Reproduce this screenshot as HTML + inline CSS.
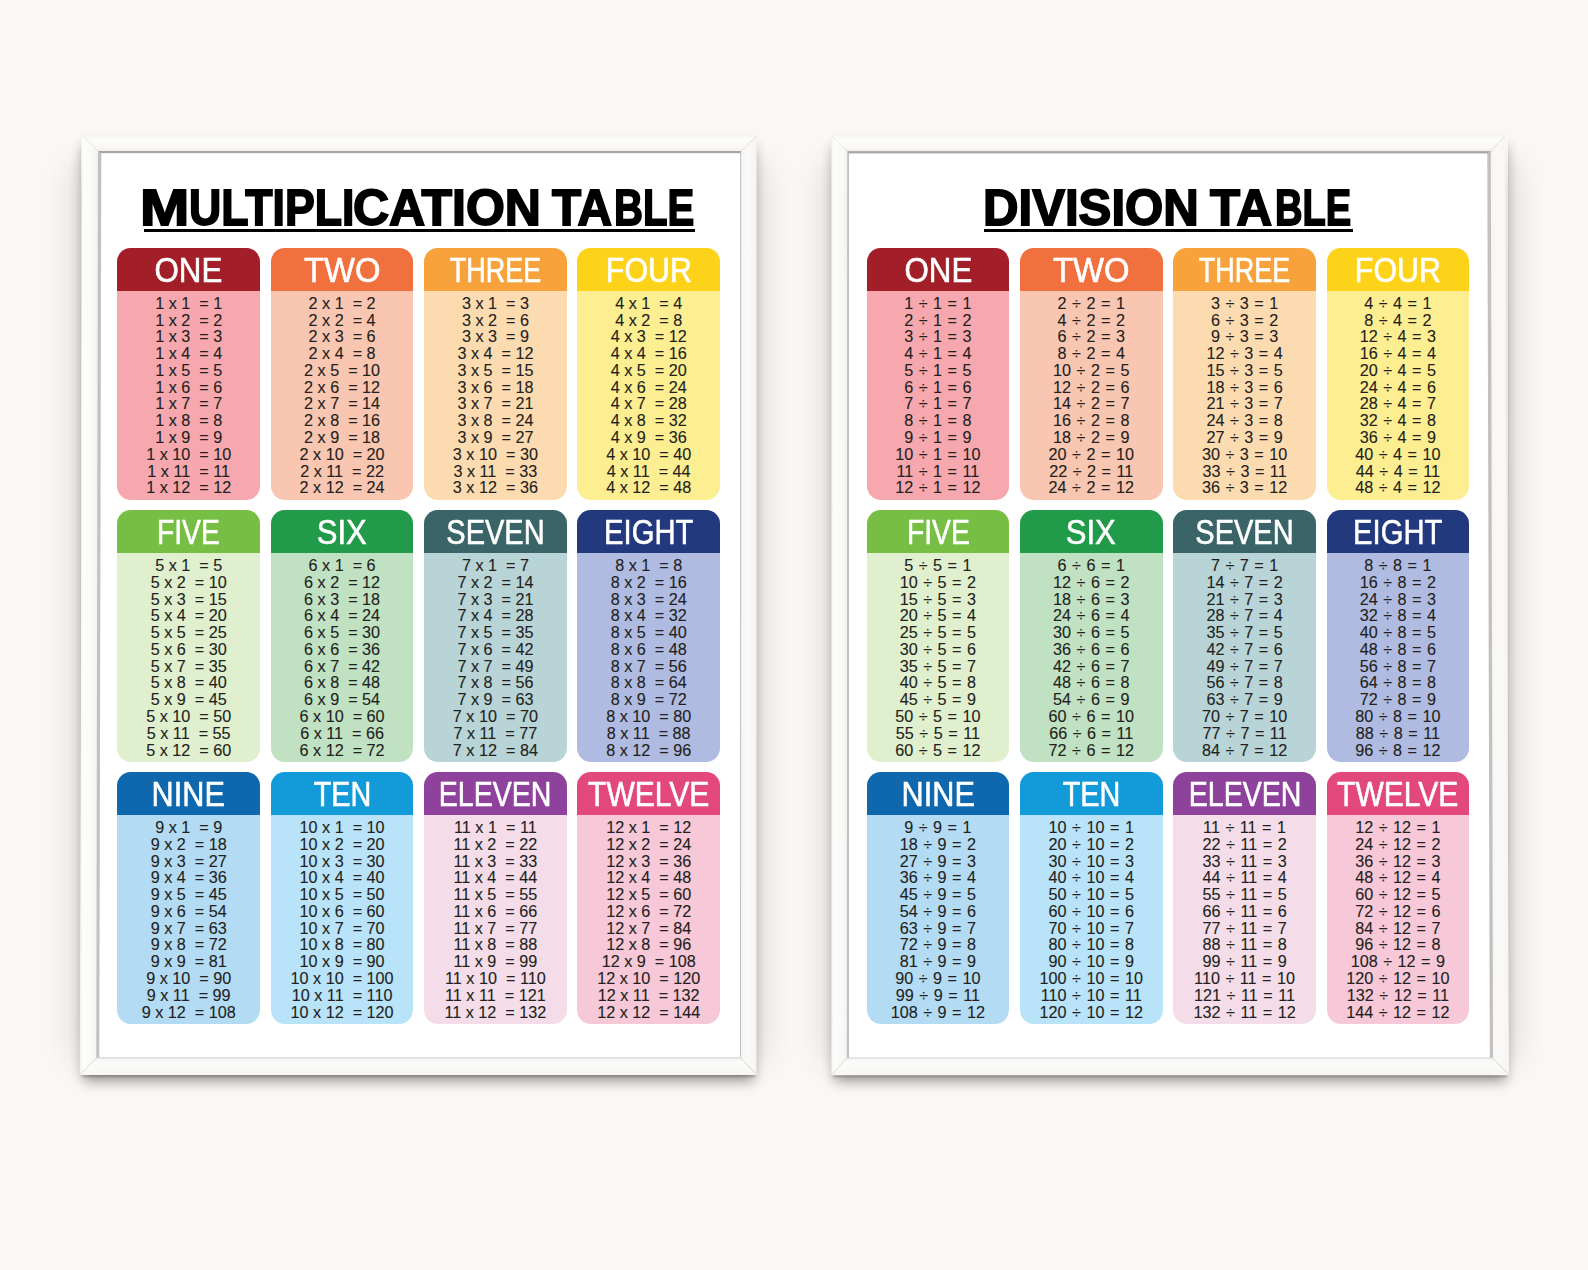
<!DOCTYPE html>
<html><head><meta charset="utf-8"><style>
*{margin:0;padding:0;box-sizing:border-box}
html,body{width:1588px;height:1270px;overflow:hidden}
body{position:relative;background:#f9f8f7;font-family:"Liberation Sans",sans-serif}
svg.fr{position:absolute;left:0;top:0}
.fsh{position:absolute;box-shadow:0 3px 2px -1px rgba(70,62,55,.30),0 9px 12px -3px rgba(70,62,55,.45),0 6px 12px -2px rgba(40,40,40,.14)}
.sd{position:absolute;top:165px;width:14px;height:895px;background:rgba(30,30,30,.19);filter:blur(14px)}
.uline{position:absolute;top:229.4px;height:2.2px;background:#000}
.tw{position:absolute;top:173px;height:70px;white-space:nowrap;font-weight:bold;font-size:50.7px;line-height:70px;color:#000;-webkit-text-stroke:1.8px #000;transform-origin:0 0}
.card{position:absolute;width:142.8px;height:252px;border-radius:14px;overflow:hidden}
.hd{height:43px;color:#fff;font-size:34.5px;line-height:44.4px;-webkit-text-stroke:0.6px #fff;text-align:center;white-space:nowrap}
.hd span{display:inline-block}
.bd{color:#231f20;font-size:16.2px;line-height:16.76px;text-align:center;padding-top:4.3px;-webkit-text-stroke:0.12px #231f20;white-space:nowrap}
</style></head><body>
<div class="fsh" style="left:80.8px;top:135.5px;width:674.8px;height:939.2px"></div>
<div class="sd" style="left:73.8px"></div><div class="sd" style="left:748.5px"></div>
<div class="fsh" style="left:832.3px;top:135.7px;width:675.7px;height:939.5px"></div>
<div class="sd" style="left:825.3px"></div><div class="sd" style="left:1501.0px"></div>
<svg class="fr" width="1588" height="1270" viewBox="0 0 1588 1270">
<defs>
<linearGradient id="gTop" x1="0" y1="0" x2="0" y2="1"><stop offset="0" stop-color="#f7f6f5"/><stop offset="0.25" stop-color="#fcfcfb"/><stop offset="0.8" stop-color="#f9f8f7"/><stop offset="1" stop-color="#efeeed"/></linearGradient>
<linearGradient id="gLeft" x1="0" y1="0" x2="1" y2="0"><stop offset="0" stop-color="#f4f3f2"/><stop offset="0.2" stop-color="#fdfdfc"/><stop offset="0.75" stop-color="#f9f8f7"/><stop offset="1" stop-color="#f1f0ef"/></linearGradient>
<linearGradient id="gRight" x1="0" y1="0" x2="1" y2="0"><stop offset="0" stop-color="#f6f5f4"/><stop offset="0.4" stop-color="#faf9f8"/><stop offset="1" stop-color="#f6f5f4"/></linearGradient>
<linearGradient id="gBot" x1="0" y1="0" x2="0" y2="1"><stop offset="0" stop-color="#f6f5f4"/><stop offset="0.3" stop-color="#fbfbfa"/><stop offset="1" stop-color="#f8f7f6"/></linearGradient>
</defs>
<polygon points="82.50,135.50 756.60,135.50 741.20,151.00 98.00,151.00" fill="url(#gTop)"/>
<polygon points="756.60,135.50 756.50,1074.70 741.00,1058.20 741.20,151.00" fill="url(#gRight)"/>
<polygon points="79.80,1074.70 756.50,1074.70 741.00,1058.20 96.30,1058.20" fill="url(#gBot)"/>
<polygon points="82.50,135.50 79.80,1074.70 96.30,1058.20 98.00,151.00" fill="url(#gLeft)"/>
<line x1="82.50" y1="135.50" x2="98.00" y2="151.00" stroke="#e6e4e2" stroke-width="0.8"/>
<line x1="756.60" y1="135.50" x2="741.20" y2="151.00" stroke="#dcdad8" stroke-width="0.8"/>
<line x1="756.50" y1="1074.70" x2="741.00" y2="1058.20" stroke="#cfcdcb" stroke-width="0.8"/>
<line x1="79.80" y1="1074.70" x2="96.30" y2="1058.20" stroke="#d6d4d2" stroke-width="0.8"/>
<polygon points="98.00,151.00 741.20,151.00 741.00,1058.20 96.30,1058.20" fill="#c3c1bf"/>
<polygon points="98.00,151.00 741.20,151.00 740.10,153.20 101.30,153.20" fill="#a9a5a3"/>
<polygon points="96.30,1057.30 741.00,1057.30 741.00,1058.20 96.30,1058.20" fill="#dddbd9"/>
<polygon points="101.30,153.20 740.10,153.20 740.00,1057.30 99.30,1057.30" fill="#ffffff"/>
<polygon points="831.30,135.70 1505.00,135.70 1490.80,151.20 847.20,151.20" fill="url(#gTop)"/>
<polygon points="1505.00,135.70 1509.00,1075.20 1493.00,1058.20 1490.80,151.20" fill="url(#gRight)"/>
<polygon points="831.30,1075.20 1509.00,1075.20 1493.00,1058.20 846.90,1058.20" fill="url(#gBot)"/>
<polygon points="831.30,135.70 831.30,1075.20 846.90,1058.20 847.20,151.20" fill="url(#gLeft)"/>
<line x1="831.30" y1="135.70" x2="847.20" y2="151.20" stroke="#e6e4e2" stroke-width="0.8"/>
<line x1="1505.00" y1="135.70" x2="1490.80" y2="151.20" stroke="#dcdad8" stroke-width="0.8"/>
<line x1="1509.00" y1="1075.20" x2="1493.00" y2="1058.20" stroke="#cfcdcb" stroke-width="0.8"/>
<line x1="831.30" y1="1075.20" x2="846.90" y2="1058.20" stroke="#d6d4d2" stroke-width="0.8"/>
<polygon points="847.20,151.20 1490.80,151.20 1493.00,1058.20 846.90,1058.20" fill="#c3c1bf"/>
<polygon points="847.20,151.20 1490.80,151.20 1487.30,153.40 849.00,153.40" fill="#a9a5a3"/>
<polygon points="846.90,1057.40 1493.00,1057.40 1493.00,1058.20 846.90,1058.20" fill="#dddbd9"/>
<polygon points="849.00,153.40 1487.30,153.40 1489.80,1057.40 849.00,1057.40" fill="#ffffff"/>
</svg>
<div class="tw" style="left:140.0px;transform:scaleX(1.1680)">M</div>
<div class="tw" style="left:188.5px;transform:scaleX(0.8810)">ULTIPLI</div>
<div class="tw" style="left:353.3px;transform:scaleX(0.9860)">CATION</div>
<div class="tw" style="left:552.4px;transform:scaleX(0.9420)">TA</div>
<div class="tw" style="left:613.9px;transform:scaleX(0.7910)">BLE</div>
<div class="uline" style="left:143.7px;width:551.2px"></div>
<div class="card" style="left:117.3px;top:247.6px;background:#f6a8ae"><div class="hd" style="background:#a21e28"><span style="transform:scaleX(0.906)">ONE</span></div><div class="bd"><div>1 x 1&nbsp; = 1</div><div>1 x 2&nbsp; = 2</div><div>1 x 3&nbsp; = 3</div><div>1 x 4&nbsp; = 4</div><div>1 x 5&nbsp; = 5</div><div>1 x 6&nbsp; = 6</div><div>1 x 7&nbsp; = 7</div><div>1 x 8&nbsp; = 8</div><div>1 x 9&nbsp; = 9</div><div>1 x 10&nbsp; = 10</div><div>1 x 11&nbsp; = 11</div><div>1 x 12&nbsp; = 12</div></div></div>
<div class="card" style="left:270.7px;top:247.6px;background:#f9c6b1"><div class="hd" style="background:#f0703e"><span style="transform:scaleX(0.951)">TWO</span></div><div class="bd"><div>2 x 1&nbsp; = 2</div><div>2 x 2&nbsp; = 4</div><div>2 x 3&nbsp; = 6</div><div>2 x 4&nbsp; = 8</div><div>2 x 5&nbsp; = 10</div><div>2 x 6&nbsp; = 12</div><div>2 x 7&nbsp; = 14</div><div>2 x 8&nbsp; = 16</div><div>2 x 9&nbsp; = 18</div><div>2 x 10&nbsp; = 20</div><div>2 x 11&nbsp; = 22</div><div>2 x 12&nbsp; = 24</div></div></div>
<div class="card" style="left:424.0px;top:247.6px;background:#fddbb1"><div class="hd" style="background:#f7a23a"><span style="transform:scaleX(0.782)">THREE</span></div><div class="bd"><div>3 x 1&nbsp; = 3</div><div>3 x 2&nbsp; = 6</div><div>3 x 3&nbsp; = 9</div><div>3 x 4&nbsp; = 12</div><div>3 x 5&nbsp; = 15</div><div>3 x 6&nbsp; = 18</div><div>3 x 7&nbsp; = 21</div><div>3 x 8&nbsp; = 24</div><div>3 x 9&nbsp; = 27</div><div>3 x 10&nbsp; = 30</div><div>3 x 11&nbsp; = 33</div><div>3 x 12&nbsp; = 36</div></div></div>
<div class="card" style="left:577.3px;top:247.6px;background:#fdee91"><div class="hd" style="background:#fdd31a"><span style="transform:scaleX(0.88)">FOUR</span></div><div class="bd"><div>4 x 1&nbsp; = 4</div><div>4 x 2&nbsp; = 8</div><div>4 x 3&nbsp; = 12</div><div>4 x 4&nbsp; = 16</div><div>4 x 5&nbsp; = 20</div><div>4 x 6&nbsp; = 24</div><div>4 x 7&nbsp; = 28</div><div>4 x 8&nbsp; = 32</div><div>4 x 9&nbsp; = 36</div><div>4 x 10&nbsp; = 40</div><div>4 x 11&nbsp; = 44</div><div>4 x 12&nbsp; = 48</div></div></div>
<div class="card" style="left:117.3px;top:509.8px;background:#e0efcd"><div class="hd" style="background:#77be44"><span style="transform:scaleX(0.82)">FIVE</span></div><div class="bd"><div>5 x 1&nbsp; = 5</div><div>5 x 2&nbsp; = 10</div><div>5 x 3&nbsp; = 15</div><div>5 x 4&nbsp; = 20</div><div>5 x 5&nbsp; = 25</div><div>5 x 6&nbsp; = 30</div><div>5 x 7&nbsp; = 35</div><div>5 x 8&nbsp; = 40</div><div>5 x 9&nbsp; = 45</div><div>5 x 10&nbsp; = 50</div><div>5 x 11&nbsp; = 55</div><div>5 x 12&nbsp; = 60</div></div></div>
<div class="card" style="left:270.7px;top:509.8px;background:#c0e1c2"><div class="hd" style="background:#219a49"><span style="transform:scaleX(0.898)">SIX</span></div><div class="bd"><div>6 x 1&nbsp; = 6</div><div>6 x 2&nbsp; = 12</div><div>6 x 3&nbsp; = 18</div><div>6 x 4&nbsp; = 24</div><div>6 x 5&nbsp; = 30</div><div>6 x 6&nbsp; = 36</div><div>6 x 7&nbsp; = 42</div><div>6 x 8&nbsp; = 48</div><div>6 x 9&nbsp; = 54</div><div>6 x 10&nbsp; = 60</div><div>6 x 11&nbsp; = 66</div><div>6 x 12&nbsp; = 72</div></div></div>
<div class="card" style="left:424.0px;top:509.8px;background:#b8d4d6"><div class="hd" style="background:#3a6467"><span style="transform:scaleX(0.84)">SEVEN</span></div><div class="bd"><div>7 x 1&nbsp; = 7</div><div>7 x 2&nbsp; = 14</div><div>7 x 3&nbsp; = 21</div><div>7 x 4&nbsp; = 28</div><div>7 x 5&nbsp; = 35</div><div>7 x 6&nbsp; = 42</div><div>7 x 7&nbsp; = 49</div><div>7 x 8&nbsp; = 56</div><div>7 x 9&nbsp; = 63</div><div>7 x 10&nbsp; = 70</div><div>7 x 11&nbsp; = 77</div><div>7 x 12&nbsp; = 84</div></div></div>
<div class="card" style="left:577.3px;top:509.8px;background:#b0bbe1"><div class="hd" style="background:#23397e"><span style="transform:scaleX(0.846)">EIGHT</span></div><div class="bd"><div>8 x 1&nbsp; = 8</div><div>8 x 2&nbsp; = 16</div><div>8 x 3&nbsp; = 24</div><div>8 x 4&nbsp; = 32</div><div>8 x 5&nbsp; = 40</div><div>8 x 6&nbsp; = 48</div><div>8 x 7&nbsp; = 56</div><div>8 x 8&nbsp; = 64</div><div>8 x 9&nbsp; = 72</div><div>8 x 10&nbsp; = 80</div><div>8 x 11&nbsp; = 88</div><div>8 x 12&nbsp; = 96</div></div></div>
<div class="card" style="left:117.3px;top:771.8px;background:#b4dbf4"><div class="hd" style="background:#0f67ad"><span style="transform:scaleX(0.888)">NINE</span></div><div class="bd"><div>9 x 1&nbsp; = 9</div><div>9 x 2&nbsp; = 18</div><div>9 x 3&nbsp; = 27</div><div>9 x 4&nbsp; = 36</div><div>9 x 5&nbsp; = 45</div><div>9 x 6&nbsp; = 54</div><div>9 x 7&nbsp; = 63</div><div>9 x 8&nbsp; = 72</div><div>9 x 9&nbsp; = 81</div><div>9 x 10&nbsp; = 90</div><div>9 x 11&nbsp; = 99</div><div>9 x 12&nbsp; = 108</div></div></div>
<div class="card" style="left:270.7px;top:771.8px;background:#b9e3f9"><div class="hd" style="background:#139bd9"><span style="transform:scaleX(0.834)">TEN</span></div><div class="bd"><div>10 x 1&nbsp; = 10</div><div>10 x 2&nbsp; = 20</div><div>10 x 3&nbsp; = 30</div><div>10 x 4&nbsp; = 40</div><div>10 x 5&nbsp; = 50</div><div>10 x 6&nbsp; = 60</div><div>10 x 7&nbsp; = 70</div><div>10 x 8&nbsp; = 80</div><div>10 x 9&nbsp; = 90</div><div>10 x 10&nbsp; = 100</div><div>10 x 11&nbsp; = 110</div><div>10 x 12&nbsp; = 120</div></div></div>
<div class="card" style="left:424.0px;top:771.8px;background:#f4dde9"><div class="hd" style="background:#8e429c"><span style="transform:scaleX(0.827)">ELEVEN</span></div><div class="bd"><div>11 x 1&nbsp; = 11</div><div>11 x 2&nbsp; = 22</div><div>11 x 3&nbsp; = 33</div><div>11 x 4&nbsp; = 44</div><div>11 x 5&nbsp; = 55</div><div>11 x 6&nbsp; = 66</div><div>11 x 7&nbsp; = 77</div><div>11 x 8&nbsp; = 88</div><div>11 x 9&nbsp; = 99</div><div>11 x 10&nbsp; = 110</div><div>11 x 11&nbsp; = 121</div><div>11 x 12&nbsp; = 132</div></div></div>
<div class="card" style="left:577.3px;top:771.8px;background:#f7c8d7"><div class="hd" style="background:#e2487c"><span style="transform:scaleX(0.87)">TWELVE</span></div><div class="bd"><div>12 x 1&nbsp; = 12</div><div>12 x 2&nbsp; = 24</div><div>12 x 3&nbsp; = 36</div><div>12 x 4&nbsp; = 48</div><div>12 x 5&nbsp; = 60</div><div>12 x 6&nbsp; = 72</div><div>12 x 7&nbsp; = 84</div><div>12 x 8&nbsp; = 96</div><div>12 x 9&nbsp; = 108</div><div>12 x 10&nbsp; = 120</div><div>12 x 11&nbsp; = 132</div><div>12 x 12&nbsp; = 144</div></div></div>
<div class="tw" style="left:983.3px;transform:scaleX(0.9700)">DIVISION</div>
<div class="tw" style="left:1209.7px;transform:scaleX(0.9720)">TA</div>
<div class="tw" style="left:1275.3px;transform:scaleX(0.7520)">BLE</div>
<div class="uline" style="left:984.0px;width:368.9px"></div>
<div class="card" style="left:866.5px;top:247.6px;background:#f6a8ae"><div class="hd" style="background:#a21e28"><span style="transform:scaleX(0.906)">ONE</span></div><div class="bd" style="word-spacing:1.0px"><div>1 ÷ 1 = 1</div><div>2 ÷ 1 = 2</div><div>3 ÷ 1 = 3</div><div>4 ÷ 1 = 4</div><div>5 ÷ 1 = 5</div><div>6 ÷ 1 = 6</div><div>7 ÷ 1 = 7</div><div>8 ÷ 1 = 8</div><div>9 ÷ 1 = 9</div><div>10 ÷ 1 = 10</div><div>11 ÷ 1 = 11</div><div>12 ÷ 1 = 12</div></div></div>
<div class="card" style="left:1019.9px;top:247.6px;background:#f9c6b1"><div class="hd" style="background:#f0703e"><span style="transform:scaleX(0.951)">TWO</span></div><div class="bd" style="word-spacing:1.0px"><div>2 ÷ 2 = 1</div><div>4 ÷ 2 = 2</div><div>6 ÷ 2 = 3</div><div>8 ÷ 2 = 4</div><div>10 ÷ 2 = 5</div><div>12 ÷ 2 = 6</div><div>14 ÷ 2 = 7</div><div>16 ÷ 2 = 8</div><div>18 ÷ 2 = 9</div><div>20 ÷ 2 = 10</div><div>22 ÷ 2 = 11</div><div>24 ÷ 2 = 12</div></div></div>
<div class="card" style="left:1173.2px;top:247.6px;background:#fddbb1"><div class="hd" style="background:#f7a23a"><span style="transform:scaleX(0.782)">THREE</span></div><div class="bd" style="word-spacing:1.0px"><div>3 ÷ 3 = 1</div><div>6 ÷ 3 = 2</div><div>9 ÷ 3 = 3</div><div>12 ÷ 3 = 4</div><div>15 ÷ 3 = 5</div><div>18 ÷ 3 = 6</div><div>21 ÷ 3 = 7</div><div>24 ÷ 3 = 8</div><div>27 ÷ 3 = 9</div><div>30 ÷ 3 = 10</div><div>33 ÷ 3 = 11</div><div>36 ÷ 3 = 12</div></div></div>
<div class="card" style="left:1326.5px;top:247.6px;background:#fdee91"><div class="hd" style="background:#fdd31a"><span style="transform:scaleX(0.88)">FOUR</span></div><div class="bd" style="word-spacing:1.0px"><div>4 ÷ 4 = 1</div><div>8 ÷ 4 = 2</div><div>12 ÷ 4 = 3</div><div>16 ÷ 4 = 4</div><div>20 ÷ 4 = 5</div><div>24 ÷ 4 = 6</div><div>28 ÷ 4 = 7</div><div>32 ÷ 4 = 8</div><div>36 ÷ 4 = 9</div><div>40 ÷ 4 = 10</div><div>44 ÷ 4 = 11</div><div>48 ÷ 4 = 12</div></div></div>
<div class="card" style="left:866.5px;top:509.8px;background:#e0efcd"><div class="hd" style="background:#77be44"><span style="transform:scaleX(0.82)">FIVE</span></div><div class="bd" style="word-spacing:1.0px"><div>5 ÷ 5 = 1</div><div>10 ÷ 5 = 2</div><div>15 ÷ 5 = 3</div><div>20 ÷ 5 = 4</div><div>25 ÷ 5 = 5</div><div>30 ÷ 5 = 6</div><div>35 ÷ 5 = 7</div><div>40 ÷ 5 = 8</div><div>45 ÷ 5 = 9</div><div>50 ÷ 5 = 10</div><div>55 ÷ 5 = 11</div><div>60 ÷ 5 = 12</div></div></div>
<div class="card" style="left:1019.9px;top:509.8px;background:#c0e1c2"><div class="hd" style="background:#219a49"><span style="transform:scaleX(0.898)">SIX</span></div><div class="bd" style="word-spacing:1.0px"><div>6 ÷ 6 = 1</div><div>12 ÷ 6 = 2</div><div>18 ÷ 6 = 3</div><div>24 ÷ 6 = 4</div><div>30 ÷ 6 = 5</div><div>36 ÷ 6 = 6</div><div>42 ÷ 6 = 7</div><div>48 ÷ 6 = 8</div><div>54 ÷ 6 = 9</div><div>60 ÷ 6 = 10</div><div>66 ÷ 6 = 11</div><div>72 ÷ 6 = 12</div></div></div>
<div class="card" style="left:1173.2px;top:509.8px;background:#b8d4d6"><div class="hd" style="background:#3a6467"><span style="transform:scaleX(0.84)">SEVEN</span></div><div class="bd" style="word-spacing:1.0px"><div>7 ÷ 7 = 1</div><div>14 ÷ 7 = 2</div><div>21 ÷ 7 = 3</div><div>28 ÷ 7 = 4</div><div>35 ÷ 7 = 5</div><div>42 ÷ 7 = 6</div><div>49 ÷ 7 = 7</div><div>56 ÷ 7 = 8</div><div>63 ÷ 7 = 9</div><div>70 ÷ 7 = 10</div><div>77 ÷ 7 = 11</div><div>84 ÷ 7 = 12</div></div></div>
<div class="card" style="left:1326.5px;top:509.8px;background:#b0bbe1"><div class="hd" style="background:#23397e"><span style="transform:scaleX(0.846)">EIGHT</span></div><div class="bd" style="word-spacing:1.0px"><div>8 ÷ 8 = 1</div><div>16 ÷ 8 = 2</div><div>24 ÷ 8 = 3</div><div>32 ÷ 8 = 4</div><div>40 ÷ 8 = 5</div><div>48 ÷ 8 = 6</div><div>56 ÷ 8 = 7</div><div>64 ÷ 8 = 8</div><div>72 ÷ 8 = 9</div><div>80 ÷ 8 = 10</div><div>88 ÷ 8 = 11</div><div>96 ÷ 8 = 12</div></div></div>
<div class="card" style="left:866.5px;top:771.8px;background:#b4dbf4"><div class="hd" style="background:#0f67ad"><span style="transform:scaleX(0.888)">NINE</span></div><div class="bd" style="word-spacing:1.0px"><div>9 ÷ 9 = 1</div><div>18 ÷ 9 = 2</div><div>27 ÷ 9 = 3</div><div>36 ÷ 9 = 4</div><div>45 ÷ 9 = 5</div><div>54 ÷ 9 = 6</div><div>63 ÷ 9 = 7</div><div>72 ÷ 9 = 8</div><div>81 ÷ 9 = 9</div><div>90 ÷ 9 = 10</div><div>99 ÷ 9 = 11</div><div>108 ÷ 9 = 12</div></div></div>
<div class="card" style="left:1019.9px;top:771.8px;background:#b9e3f9"><div class="hd" style="background:#139bd9"><span style="transform:scaleX(0.834)">TEN</span></div><div class="bd" style="word-spacing:1.0px"><div>10 ÷ 10 = 1</div><div>20 ÷ 10 = 2</div><div>30 ÷ 10 = 3</div><div>40 ÷ 10 = 4</div><div>50 ÷ 10 = 5</div><div>60 ÷ 10 = 6</div><div>70 ÷ 10 = 7</div><div>80 ÷ 10 = 8</div><div>90 ÷ 10 = 9</div><div>100 ÷ 10 = 10</div><div>110 ÷ 10 = 11</div><div>120 ÷ 10 = 12</div></div></div>
<div class="card" style="left:1173.2px;top:771.8px;background:#f4dde9"><div class="hd" style="background:#8e429c"><span style="transform:scaleX(0.827)">ELEVEN</span></div><div class="bd" style="word-spacing:1.0px"><div>11 ÷ 11 = 1</div><div>22 ÷ 11 = 2</div><div>33 ÷ 11 = 3</div><div>44 ÷ 11 = 4</div><div>55 ÷ 11 = 5</div><div>66 ÷ 11 = 6</div><div>77 ÷ 11 = 7</div><div>88 ÷ 11 = 8</div><div>99 ÷ 11 = 9</div><div>110 ÷ 11 = 10</div><div>121 ÷ 11 = 11</div><div>132 ÷ 11 = 12</div></div></div>
<div class="card" style="left:1326.5px;top:771.8px;background:#f7c8d7"><div class="hd" style="background:#e2487c"><span style="transform:scaleX(0.87)">TWELVE</span></div><div class="bd" style="word-spacing:1.0px"><div>12 ÷ 12 = 1</div><div>24 ÷ 12 = 2</div><div>36 ÷ 12 = 3</div><div>48 ÷ 12 = 4</div><div>60 ÷ 12 = 5</div><div>72 ÷ 12 = 6</div><div>84 ÷ 12 = 7</div><div>96 ÷ 12 = 8</div><div>108 ÷ 12 = 9</div><div>120 ÷ 12 = 10</div><div>132 ÷ 12 = 11</div><div>144 ÷ 12 = 12</div></div></div>
</body></html>
